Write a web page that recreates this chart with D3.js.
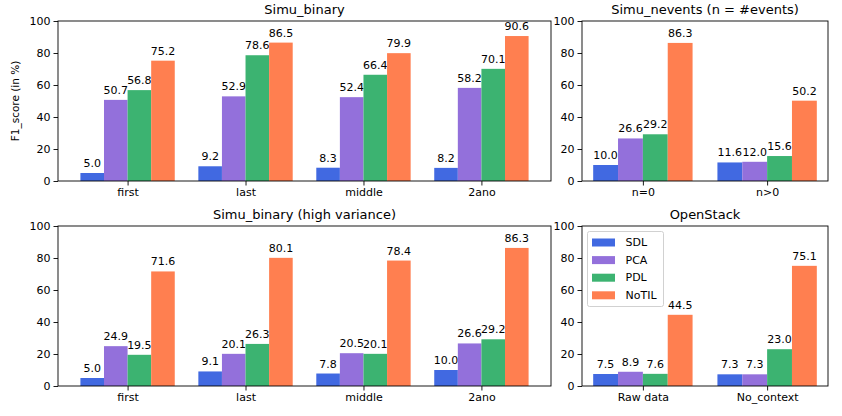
<!DOCTYPE html>
<html>
<head>
<meta charset="utf-8">
<script src="https://cdn.jsdelivr.net/npm/d3@7"></script>
<style>
  body { margin: 0; background: #fff; }
  text { font-family: "DejaVu Sans", sans-serif; fill: #000; }
  .tick text { font-size: 11px; }
  .domain { display: none; }
  .tick line { stroke: #000; stroke-width: 0.9; }
  .title { font-size: 13px; }
  .vlabel { font-size: 11px; }
</style>
</head>
<body>
<div id="ChartContainer"></div>
<script>
const seriesNames = ["SDL", "PCA", "PDL", "NoTIL"]
const seriesColors = ["#4169e1", "#9370db", "#3cb371", "#ff7f50"]
const yTicks = [0, 20, 40, 60, 80, 100]

// Simu_binary
const binaryCats = ["first", "last", "middle", "2ano"]
const binarySDL = [5.0, 9.2, 8.3, 8.2]
const binaryPCA = [50.7, 52.9, 52.4, 58.2]
const binaryPDL = [56.8, 78.6, 66.4, 70.1]
const binaryNoTIL = [75.2, 86.5, 79.9, 90.6]

// Simu_nevents
const neventsCats = ["n=0", "n>0"]
const neventsSDL = [10.0, 11.6]
const neventsPCA = [26.6, 12.0]
const neventsPDL = [29.2, 15.6]
const neventsNoTIL = [86.3, 50.2]

// Simu_binary (high variance)
const hvCats = ["first", "last", "middle", "2ano"]
const hvSDL = [5.0, 9.1, 7.8, 10.0]
const hvPCA = [24.9, 20.1, 20.5, 26.6]
const hvPDL = [19.5, 26.3, 20.1, 29.2]
const hvNoTIL = [71.6, 80.1, 78.4, 86.3]

// OpenStack
const osCats = ["Raw data", "No_context"]
const osSDL = [7.5, 7.3]
const osPCA = [8.9, 7.3]
const osPDL = [7.6, 23.0]
const osNoTIL = [44.5, 75.1]

const panels = [
  {title: "Simu_binary", cats: binaryCats, series: [binarySDL, binaryPCA, binaryPDL, binaryNoTIL],
   box: {x0: 58, x1: 551, y0: 21, y1: 181}, ylabel: true},
  {title: "Simu_nevents (n = #events)", cats: neventsCats, series: [neventsSDL, neventsPCA, neventsPDL, neventsNoTIL],
   box: {x0: 582, x1: 828, y0: 21, y1: 181}},
  {title: "Simu_binary (high variance)", cats: hvCats, series: [hvSDL, hvPCA, hvPDL, hvNoTIL],
   box: {x0: 58, x1: 551, y0: 226, y1: 386}},
  {title: "OpenStack", cats: osCats, series: [osSDL, osPCA, osPDL, osNoTIL],
   box: {x0: 582, x1: 828, y0: 226, y1: 386}, legend: true},
]

const svg = d3.select("#ChartContainer").append("svg")
  .attr("width", 842)
  .attr("height", 416)

svg.append("rect").attr("width", 842).attr("height", 416).attr("fill", "#fff")

const barW = 0.2
const offsets = [-0.3, -0.1, 0.1, 0.3]

panels.forEach(p => {
  var b = p.box
  var n = p.cats.length
  var lo = -0.4, hi = n - 1 + 0.4
  var pad = (hi - lo) * 0.05
  var x = d3.scaleLinear().domain([lo - pad, hi + pad]).range([b.x0, b.x1])
  var y = d3.scaleLinear().domain([0, 100]).range([b.y1, b.y0])

  var g = svg.append("g")

  p.series.forEach((vals, si) => {
    g.selectAll(null)
      .data(vals)
      .enter()
      .append("rect")
      .attr("x", (d, i) => x(i + offsets[si] - barW / 2))
      .attr("width", x(barW) - x(0))
      .attr("y", d => y(d))
      .attr("height", d => y(0) - y(d))
      .attr("fill", seriesColors[si])

    g.selectAll(null)
      .data(vals)
      .enter()
      .append("text")
      .attr("class", "vlabel")
      .attr("x", (d, i) => x(i + offsets[si]))
      .attr("y", d => y(d) - 6)
      .attr("text-anchor", "middle")
      .text(d => d.toFixed(1))
  })

  // axes
  g.append("g")
    .attr("transform", `translate(${b.x0},0)`)
    .call(d3.axisLeft(y).tickValues(yTicks).tickSize(4.5).tickPadding(3))
  g.append("g")
    .attr("transform", `translate(0,${b.y1})`)
    .call(d3.axisBottom(x).tickValues(d3.range(n)).tickFormat(i => p.cats[i]).tickSize(4.5).tickPadding(2.5))

  g.append("rect")
    .attr("x", b.x0).attr("y", b.y0)
    .attr("width", b.x1 - b.x0).attr("height", b.y1 - b.y0)
    .attr("fill", "none").attr("stroke", "#000").attr("stroke-width", 0.9)

  g.append("text")
    .attr("class", "title")
    .attr("x", (b.x0 + b.x1) / 2)
    .attr("y", b.y0 - 7.5)
    .attr("text-anchor", "middle")
    .text(p.title)

  if (p.ylabel) {
    g.append("text")
      .attr("transform", `translate(19,${(b.y0 + b.y1) / 2}) rotate(-90)`)
      .attr("text-anchor", "middle")
      .attr("font-size", "10.5px")
      .text("F1_score (in %)")
  }

  if (p.legend) {
    var gl = g.append("g").attr("transform", `translate(${b.x0 + 5.5},${b.y0 + 5.5})`)
    gl.append("rect")
      .attr("width", 76).attr("height", 75)
      .attr("rx", 2)
      .attr("fill", "#fff").attr("fill-opacity", 0.8)
      .attr("stroke", "#ccc").attr("stroke-width", 0.9)
    seriesNames.forEach((name, i) => {
      gl.append("rect")
        .attr("x", 4.5).attr("y", 7 + i * 17.6)
        .attr("width", 23).attr("height", 8)
        .attr("fill", seriesColors[i])
      gl.append("text")
        .attr("x", 38).attr("y", 14.5 + i * 17.6)
        .attr("font-size", "11px")
        .text(name)
    })
  }
})
</script>
</body>
</html>
